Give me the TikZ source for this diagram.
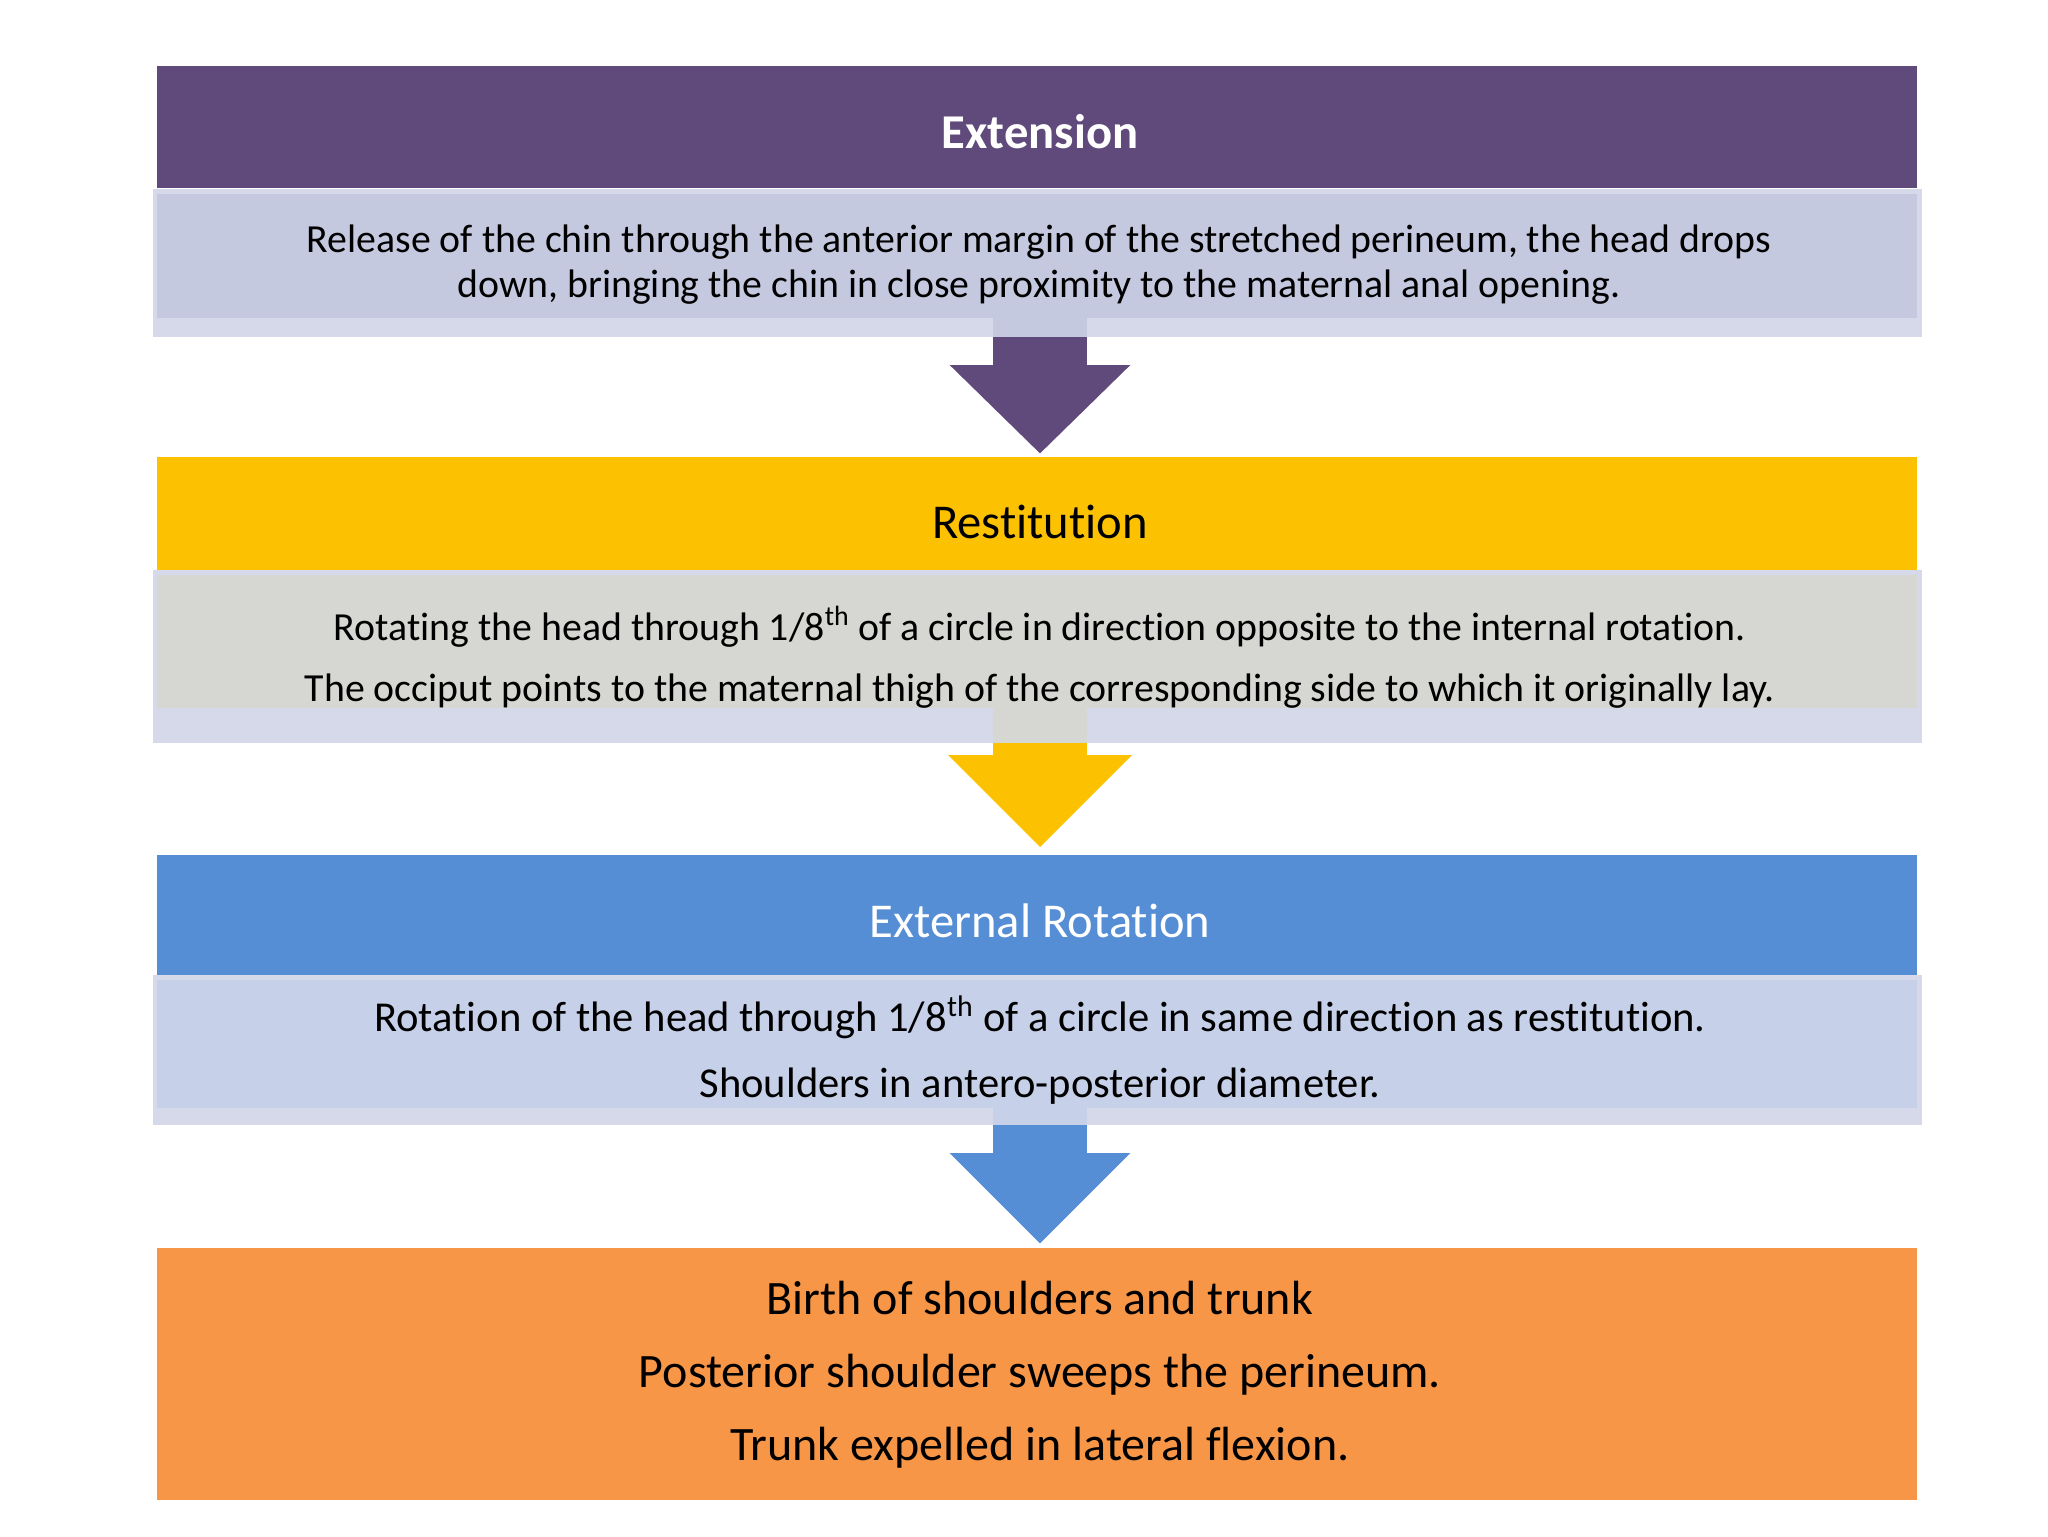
\documentclass[tikz,border=0pt]{standalone}
\usepackage{fontspec}
\setmainfont{Carlito}[Ligatures=NoCommon]
\usetikzlibrary{calc}
\definecolor{cPurple}{HTML}{604A7B}
\definecolor{cYellow}{HTML}{FCC100}
\definecolor{cBlue}{HTML}{558ED5}
\definecolor{cOrange}{HTML}{F79646}
\definecolor{cStrip}{HTML}{D6D9EA}
\definecolor{cInnerA}{HTML}{C5C9DF}
\definecolor{cInnerB}{HTML}{D6D7D2}
\definecolor{cInnerC}{HTML}{C6D0E8}
\begin{document}
\begin{tikzpicture}[x=0.5pt,y=-0.5pt,
  box/.style={rectangle, inner sep=0pt, outer sep=0pt, minimum width=880pt, draw=none},
  strip/.style={box, minimum width=884.5pt, fill=cStrip},
  hdrtxt/.style={inner sep=0pt, font=\fontsize{24.3}{28}\selectfont},
  bodytxt/.style={align=center, inner sep=0pt, font=\fontsize{19.9}{22.5}\selectfont},
  bigtxt/.style={align=center, inner sep=0pt, font=\fontsize{24}{26.5}\selectfont},
  edge/.style={white, line width=1pt, line join=miter}
]
\useasboundingbox[fill=white] (0,0) rectangle (2048,1536);
\coordinate (ax) at (1040,0);

% Stage 1
\node[box, fill=cPurple, minimum height=61pt] (h1) at (1037,127) {};
\node[hdrtxt, text=white, font=\fontsize{24.3}{28}\selectfont\bfseries] (t1) at (1040,132) {Extension};
\node[strip, minimum height=74pt] (st1) at (1037.5,263) {};
\node[box, fill=cInnerA, minimum height=62pt] (in1) at (1037,256) {};
\node[bodytxt] (b1) at (1039,265) {Release of the chin through the anterior margin of the stretched perineum, the head drops\\down, bringing the chin in close proximity to the maternal anal opening.};

% Stage 2
\node[box, fill=cYellow, minimum height=56.5pt] (h2) at (1037,513.5) {};
\node[hdrtxt] (t2) at (1040,522) {Restitution};
\node[strip, minimum height=86.5pt] (st2) at (1037.5,656.5) {};
\node[box, fill=cInnerB, minimum height=66.5pt] (in2) at (1037,641.5) {};
\node[bodytxt] (b2) at (1040,657) {Rotating the head through 1/8\textsuperscript{th} of a circle in direction opposite to the internal rotation.\\[8pt]The occiput points to the maternal thigh of the corresponding side to which it originally lay.};

% Stage 3
\node[box, fill=cBlue, minimum height=60pt] (h3) at (1037,915) {};
\node[hdrtxt, text=white] (t3) at (1040,921) {External Rotation};
\node[strip, minimum height=75pt] (st3) at (1037.5,1050) {};
\node[box, fill=cInnerC, minimum height=64pt] (in3) at (1037,1044) {};
\node[bodytxt, font=\fontsize{21.3}{22.5}\selectfont] (b3) at (1040,1050) {Rotation of the head through 1/8\textsuperscript{th} of a circle in same direction as restitution.\\[10.5pt]Shoulders in antero-posterior diameter.};

% Stage 4
\node[box, fill=cOrange, minimum height=126pt] (h4) at (1037,1374) {};
\node[bigtxt] (t4) at (1040,1375) {Birth of shoulders and trunk\\[10pt]Posterior shoulder sweeps the perineum.\\[10pt]Trunk expelled in lateral flexion.};

% Arrow 1
\fill[cInnerA] ($(ax |- in1.south)+(-47,0)$) rectangle ($(ax |- st1.south)+(47,0)$);
\fill[cPurple] ($(ax |- st1.south)+(-47,0)$) rectangle ($(ax |- h2.north)+(47,-90)$);
\fill[cPurple] ($(ax |- h2.north)+(-92,-92)$) -- ($(ax |- h2.north)+(92,-92)$) -- ($(ax |- h2.north)+(0,-2)$) -- cycle;
\draw[edge] ($(ax |- h2.north)+(-92,-92)$) -- ($(ax |- h2.north)+(0,-2)$) -- ($(ax |- h2.north)+(92,-92)$);

% Arrow 2
\fill[cInnerB] ($(ax |- in2.south)+(-47,0)$) rectangle ($(ax |- st2.south)+(47,0)$);
\fill[cYellow] ($(ax |- st2.south)+(-47,0)$) rectangle ($(ax |- h3.north)+(47,-98)$);
\fill[cYellow] ($(ax |- h3.north)+(-92,-100)$) -- ($(ax |- h3.north)+(92,-100)$) -- ($(ax |- h3.north)+(0,-8)$) -- cycle;

% Arrow 3
\fill[cInnerC] ($(ax |- in3.south)+(-47,0)$) rectangle ($(ax |- st3.south)+(47,0)$);
\fill[cBlue] ($(ax |- st3.south)+(-47,0)$) rectangle ($(ax |- h4.north)+(47,-93)$);
\fill[cBlue] ($(ax |- h4.north)+(-92,-95)$) -- ($(ax |- h4.north)+(92,-95)$) -- ($(ax |- h4.north)+(0,-3)$) -- cycle;
\draw[edge] ($(ax |- h4.north)+(-92,-95)$) -- ($(ax |- h4.north)+(0,-3)$) -- ($(ax |- h4.north)+(92,-95)$);
\end{tikzpicture}
\end{document}
